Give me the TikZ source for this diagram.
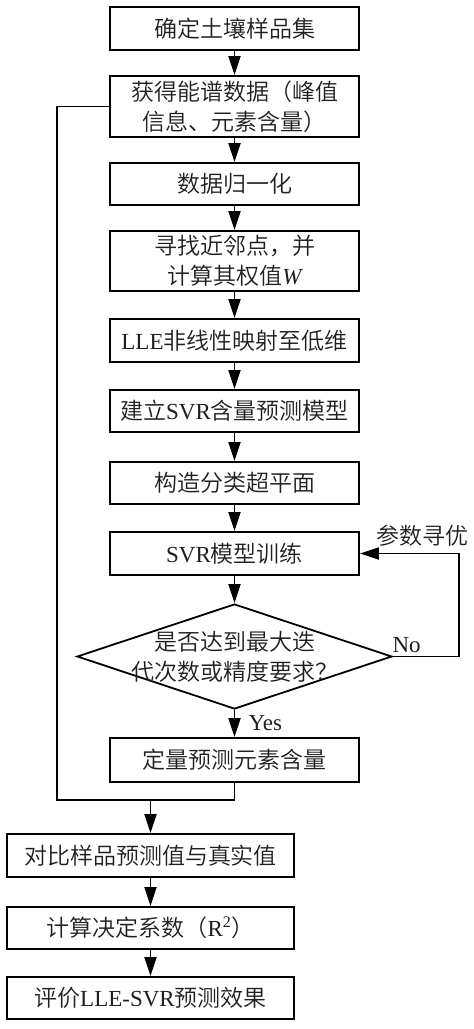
\documentclass[tikz,border=0pt]{standalone}
\usepackage{fontspec}
\setmainfont{Noto Sans CJK SC}[UprightFont=* DemiLight]
\newfontfamily\lat{Liberation Serif}
\usetikzlibrary{arrows.meta,shapes.geometric}
\begin{document}
\begin{tikzpicture}[x=1pt,y=-1pt,
  txt/.style={font=\fontsize{23}{30}\selectfont, align=center, text=black!88},
  stepbox/.style={txt, draw, line width=1.8pt, minimum width=249pt, inner sep=0pt},
  lowbox/.style={stepbox, minimum width=287pt},
  dia/.style={draw, diamond, line width=1.8pt, minimum width=315pt, minimum height=105pt, inner sep=0pt},
  arr/.style={line width=1.8pt, -{Triangle[length=19pt,width=12pt]}},
  ln/.style={line width=1.8pt}]
\useasboundingbox (0,0) rectangle (474,1029);
\node[stepbox, minimum height=43pt] (b1) at (234.5,28.5) {确定土壤样品集};
\node[stepbox, minimum height=61pt] (b2) at (234.5,106.5) {获得能谱数据（峰值\\信息、元素含量）};
\node[stepbox, minimum height=42pt] (b3) at (234.5,184) {数据归一化};
\node[stepbox, minimum height=60pt] (b4) at (234.5,261) {寻找近邻点，并\\计算其权值{\lat\itshape W}};
\node[stepbox, minimum height=43pt] (b5) at (234.5,340.5) {{\lat LLE}非线性映射至低维};
\node[stepbox, minimum height=42pt] (b6) at (234.5,411) {建立{\lat SVR}含量预测模型};
\node[stepbox, minimum height=42pt] (b7) at (234.5,483) {构造分类超平面};
\node[stepbox, minimum height=43pt] (b8) at (234.5,553.5) {{\lat SVR}模型训练};
\node[dia] (dec) at (234.5,656.5) {};
\node[txt] (dect) at (234.5,657) {是否达到最大迭\\代次数或精度要求？};
\node[stepbox, minimum height=44pt] (b9) at (234.5,760) {定量预测元素含量};
\node[lowbox, minimum height=43pt] (b10) at (150.5,855.5) {对比样品预测值与真实值};
\node[lowbox, minimum height=42pt] (b11) at (150.5,928) {计算决定系数（{\lat R\textsuperscript{2}}）};
\node[lowbox, minimum height=42pt] (b12) at (150.5,998) {评价{\lat LLE-SVR}预测效果};
\draw[arr] (b1) -- (b2);
\draw[arr] (b2) -- (b3);
\draw[arr] (b3) -- (b4);
\draw[arr] (b4) -- (b5);
\draw[arr] (b5) -- (b6);
\draw[arr] (b6) -- (b7);
\draw[arr] (b7) -- (b8);
\draw[arr] (b8) -- (dec.north);
\draw[arr] (dec.south) -- (b9);
\node[txt, anchor=west, font=\lat\fontsize{23}{30}\selectfont] (yes) at (245,723) {Yes};
\coordinate (fb) at (459,553.5);
\draw[arr] (dec.east) -| (fb) -- (b8.east);
\node[txt, anchor=south west, font=\lat\fontsize{23}{30}\selectfont] (no) at (389,656) {No};
\node[txt] (opt) at (422,536) {参数寻优};
\coordinate (la) at (57,106.5);
\coordinate (lb) at (57,800);
\coordinate (j9) at (234.5,800);
\coordinate (jn) at (150.5,800);
\draw[ln] (b2.west) -- (la) -- (lb) -- (j9) -- (b9.south);
\draw[arr] (jn) -- (b10.north);
\draw[arr] (b10) -- (b11);
\draw[arr] (b11) -- (b12);
\end{tikzpicture}
\end{document}
